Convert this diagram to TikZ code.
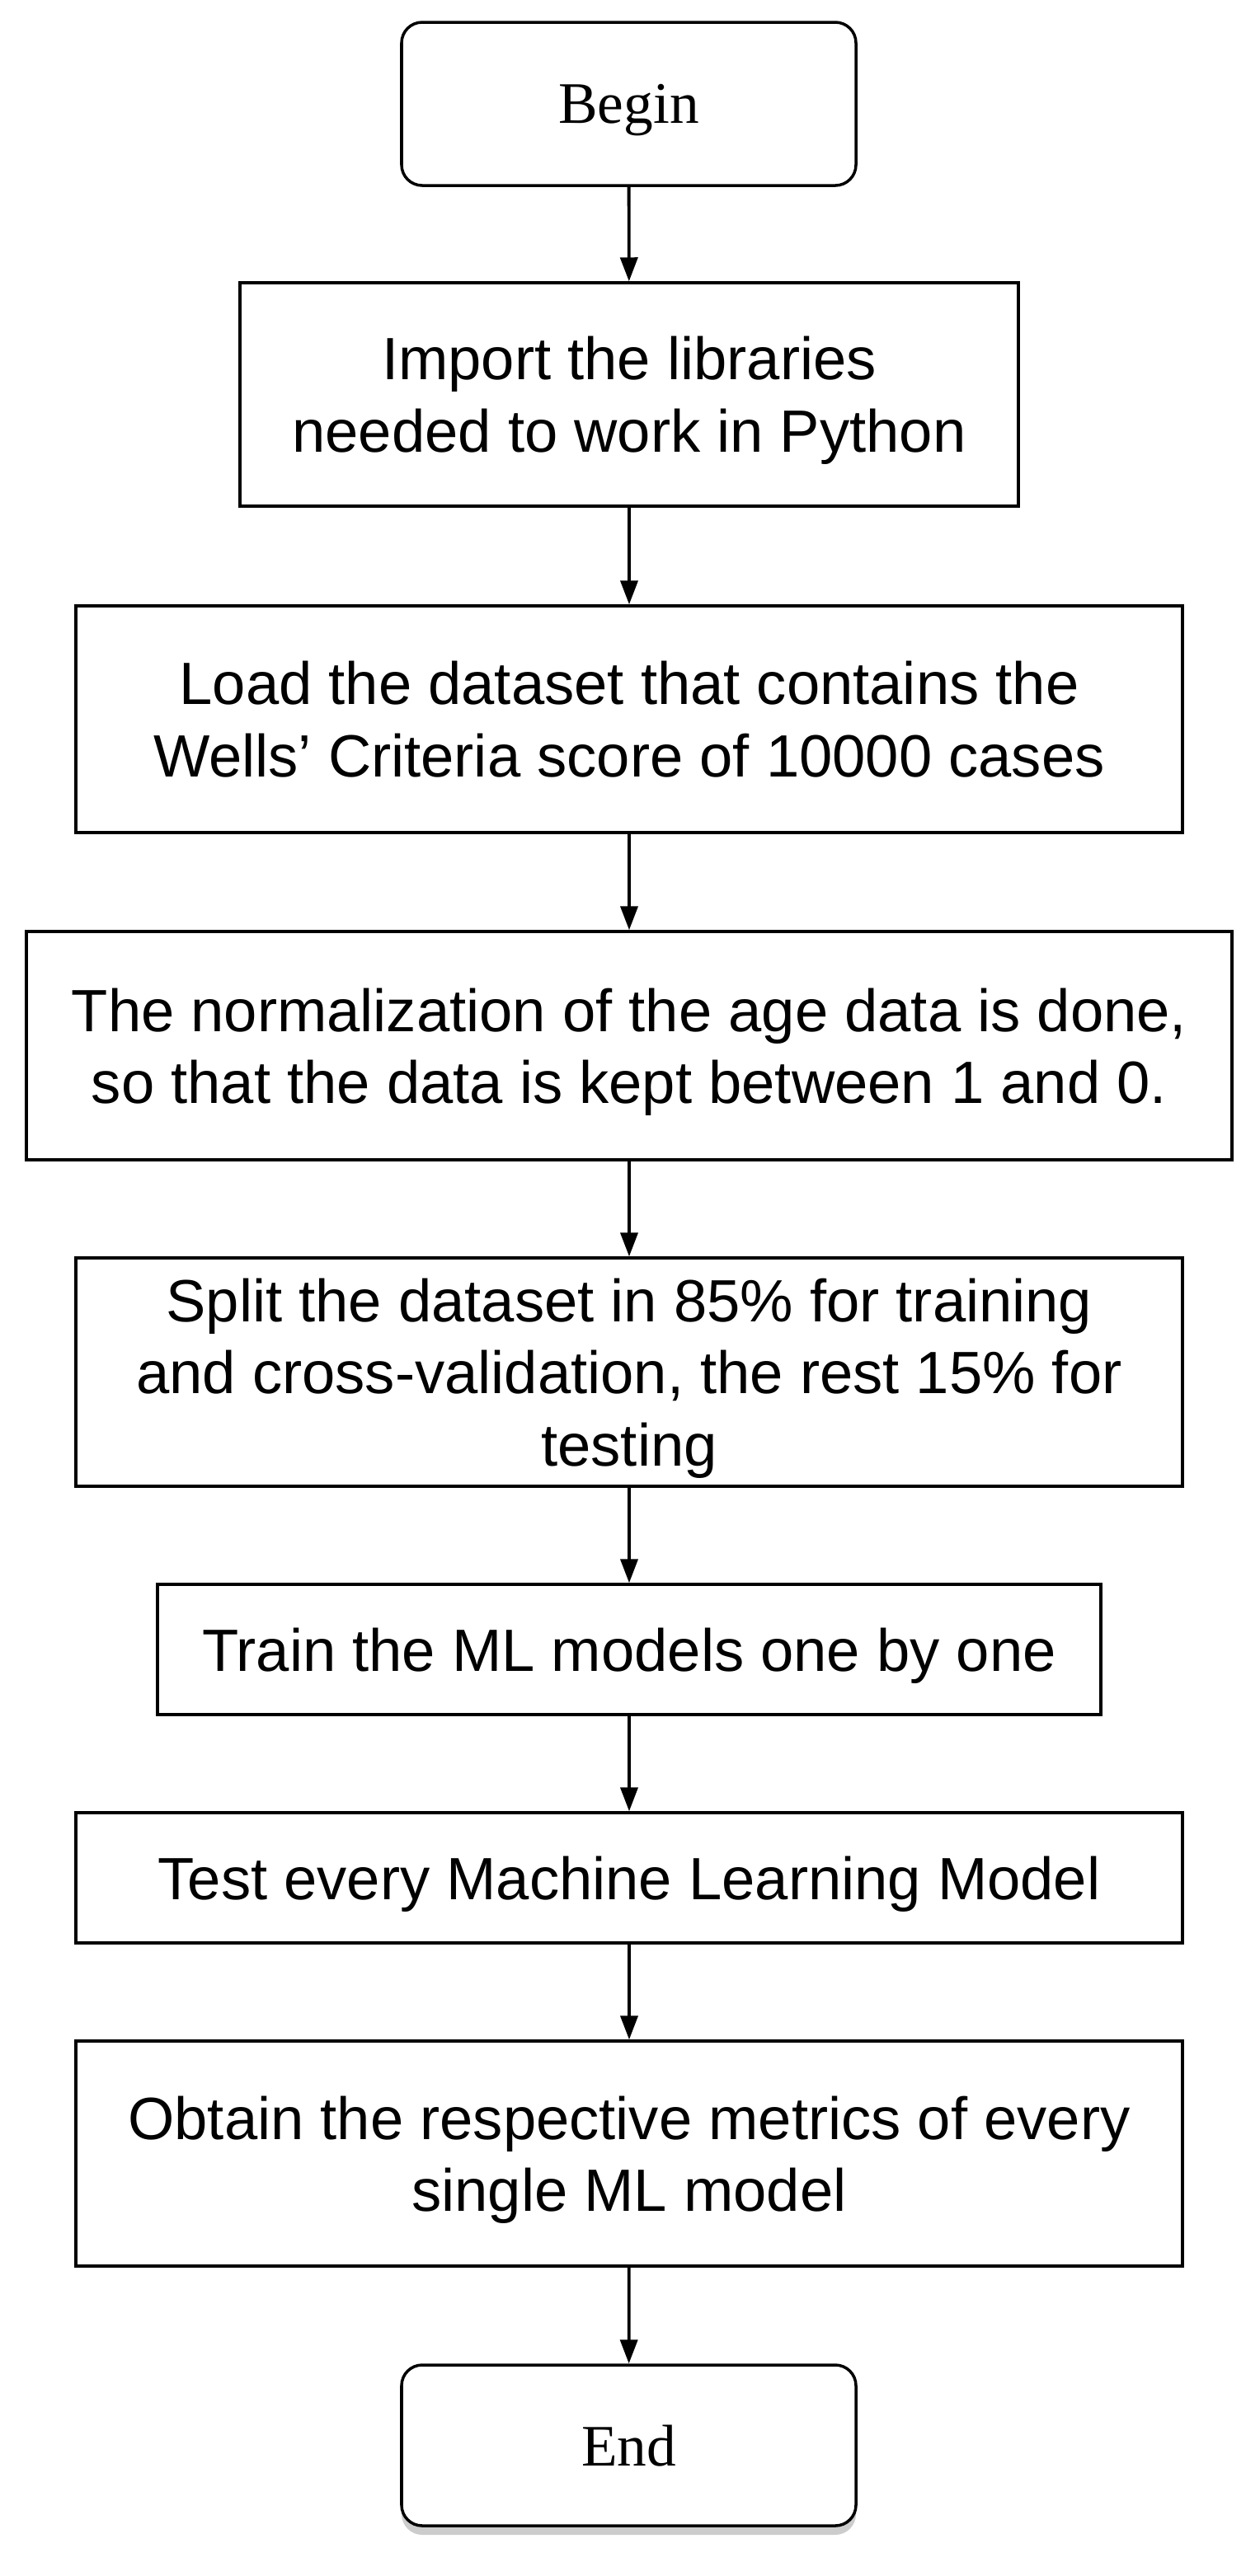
\documentclass[tikz,border=0pt]{standalone}
\usepackage{fontspec}
\setmainfont{Liberation Sans}
\newfontfamily\termfont{Liberation Serif}
\usetikzlibrary{arrows.meta,shadows}

\begin{document}
\begin{tikzpicture}[
        stepbox/.style={draw, line width=1pt, align=center, inner sep=0pt, text depth=0pt,
            font=\fontsize{20.6}{24.9}\selectfont},
        termbox/.style={draw, line width=1pt, rounded corners=2.5mm, fill=white, text depth=0pt,
            minimum width=5.51cm, font=\termfont\fontsize{20.3}{24}\selectfont},
        flow/.style={-{Triangle[length=2.9mm,width=2.1mm]}, line width=1.1pt}
    ]
        \useasboundingbox (0,0) rectangle (15.28,-31.25);

        % start and end
        \node[termbox, minimum height=1.98cm] (begin) at (7.625,-1.26) {Begin};
        \node[termbox, minimum height=1.95cm,
            drop shadow={shadow xshift=0pt, shadow yshift=-1.1mm, opacity=0.4}]
            (end) at (7.625,-29.665) {End};

        % steps
        \node[stepbox, minimum width=9.44cm, minimum height=2.71cm] (import) at (7.63,-4.785)
            {Import the libraries\\needed to work in Python};
        \node[stepbox, minimum width=13.42cm, minimum height=2.75cm] (load) at (7.63,-8.725)
            {Load the dataset that contains the\\Wells' Criteria score of 10000 cases};
        \node[stepbox, minimum width=14.62cm, minimum height=2.77cm] (norm) at (7.63,-12.685)
            {The normalization of the age data is done,\\so that the data is kept between 1 and 0.};
        \node[stepbox, minimum width=13.42cm, minimum height=2.77cm] (split) at (7.63,-16.645)
            {Split the dataset in 85\% for training\\and cross-validation, the rest 15\% for\\testing};
        \node[stepbox, minimum width=11.44cm, minimum height=1.58cm] (train) at (7.63,-20.01)
            {Train the ML models one by one};
        \node[stepbox, minimum width=13.42cm, minimum height=1.58cm] (test) at (7.63,-22.78)
            {Test every Machine Learning Model};
        \node[stepbox, minimum width=13.42cm, minimum height=2.73cm] (obtain) at (7.63,-26.125)
            {Obtain the respective metrics of every\\single ML model};

        % arrows
        \draw[flow] (begin) -- (import);
        \draw[flow] (import) -- (load);
        \draw[flow] (load) -- (norm);
        \draw[flow] (norm) -- (split);
        \draw[flow] (split) -- (train);
        \draw[flow] (train) -- (test);
        \draw[flow] (test) -- (obtain);
        \draw[flow] (obtain) -- (end);
    \end{tikzpicture}
\end{document}
